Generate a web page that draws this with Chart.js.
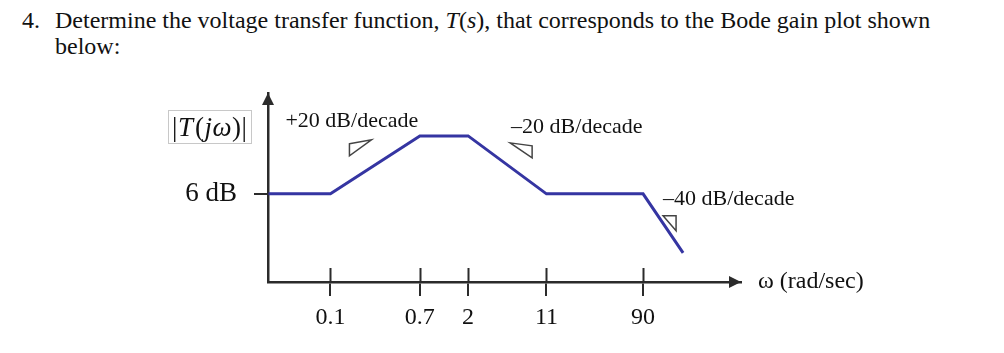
<!DOCTYPE html>
<html>
<head>
<meta charset="utf-8">
<script src="https://cdn.jsdelivr.net/npm/chart.js@4"></script>
<style>
  body { margin: 0; background: #fff; }
  #q { position: absolute; left: 0; top: 7px; width: 1004px; font: 24px "Liberation Serif", serif; line-height: 26px; color: #111; }
  #q .num { position: absolute; left: 22px; }
  #q .txt { position: absolute; left: 55px; white-space: nowrap; }
  #wrap { position: absolute; left: 0; top: 0; }
</style>
</head>
<body>
<div id="q">
  <span class="num">4.</span>
  <span class="txt">Determine the voltage transfer function, <i>T</i>(<i>s</i>), that corresponds to the Bode gain plot shown<br>below:</span>
</div>
<div id="wrap"><canvas id="c" width="1004" height="353"></canvas></div>
<script>
// break frequencies (rad/sec) and asymptotic gain (dB)
const omega = [0.026, 0.1, 0.7, 2, 11, 90, 215]
const gainDb = [6, 6, 22.9, 22.9, 6, 6, -11.2]

const xTicks = [0.1, 0.7, 2, 11, 90]
const xTickLabels = ['0.1', '0.7', '2', '11', '90']
const yTicks = [6]
const yTickLabels = ['6 dB']

// which segment each slope note belongs to (index of segment start)
const slopeNotes = [
    { seg: 1, text: '+20 dB/decade' },
    { seg: 3, text: '\u201320 dB/decade' },
    { seg: 5, text: '\u201340 dB/decade' }
]

const AXIS = '#2b2b2b'
const SERIF = '"Liberation Serif", serif'

// offsets of each note from its segment start, and its little slope triangle
const noteLayout = [
    { dx: -45, dy: -67, tri: [[64, 17], [86, 13], [64, 29]] },
    { dx: 43, dy: -3, tri: [[-1, 10], [21, 13], [21, 25]] },
    { dx: 20, dy: 11, tri: [[0, 11], [13, 11], [13, 26]] }
]

const decor = {
    id: 'decor',
    afterDraw(chart) {
        const c = chart.ctx, a = chart.chartArea
        const xs = chart.scales.x, ys = chart.scales.y
        c.save()
        c.fillStyle = AXIS
        c.strokeStyle = AXIS
        // arrow heads
        c.beginPath()
        c.moveTo(a.left, a.top)
        c.lineTo(a.left - 6, a.top + 12)
        c.lineTo(a.left + 6, a.top + 12)
        c.closePath()
        c.fill()
        c.beginPath()
        c.moveTo(a.right, a.bottom)
        c.lineTo(a.right - 12, a.bottom - 6)
        c.lineTo(a.right - 12, a.bottom + 6)
        c.closePath()
        c.fill()
        // upper half of the x tick crosses
        c.lineWidth = 2
        xTicks.forEach(v => {
            let px = Math.round(xs.getPixelForValue(v)) + 0.5
            c.beginPath()
            c.moveTo(px, a.bottom)
            c.lineTo(px, a.bottom - 14)
            c.stroke()
        })
        // axis titles
        c.fillStyle = '#111'
        c.textBaseline = 'middle'
        c.font = '24px ' + SERIF
        c.fillText('\u03c9 (rad/sec)', a.right + 17, a.bottom)
        // |T(jw)| label in a faint box
        c.strokeStyle = '#c8c8c8'
        c.lineWidth = 1
        c.strokeRect(168.5, 110.5, 83, 33)
        c.textBaseline = 'alphabetic'
        let x = 172, y = 136
        const parts = [['|', ''], ['T', 'italic '], ['(', ''], ['j', 'italic '], ['\u03c9', 'italic '], [')', ''], ['|', '']]
        parts.forEach(p => {
            c.font = p[1] + '27px ' + SERIF
            c.fillText(p[0], x, y)
            x += c.measureText(p[0]).width + (p[0] == 'T' ? 2 : 0.5)
        })
        // slope notes
        c.font = '22px ' + SERIF
        slopeNotes.forEach((n, i) => {
            let sx = xs.getPixelForValue(omega[n.seg]), sy = ys.getPixelForValue(gainDb[n.seg])
            let L = noteLayout[i]
            let lx = sx + L.dx, ly = sy + L.dy
            c.fillStyle = '#111'
            c.fillText(n.text, lx, ly)
            c.strokeStyle = '#444'
            c.lineWidth = 1.5
            c.beginPath()
            c.moveTo(lx + L.tri[0][0], ly + L.tri[0][1])
            c.lineTo(lx + L.tri[1][0], ly + L.tri[1][1])
            c.lineTo(lx + L.tri[2][0], ly + L.tri[2][1])
            c.closePath()
            c.stroke()
        })
        c.restore()
    }
}

new Chart(document.getElementById('c'), {
    type: 'line',
    data: {
        datasets: [{
            data: omega.map((w, i) => ({ x: w, y: gainDb[i] })),
            borderColor: '#3535a2',
            borderWidth: 3,
            pointRadius: 0,
            tension: 0,
            fill: false
        }]
    },
    options: {
        responsive: false,
        animation: false,
        devicePixelRatio: 1,
        layout: { padding: { left: 168, top: 93, right: 263, bottom: 21 } },
        plugins: { legend: { display: false }, tooltip: { enabled: false } },
        scales: {
            x: {
                type: 'logarithmic',
                min: 0.0257,
                max: 758,
                border: { color: AXIS, width: 2.5 },
                grid: { drawOnChartArea: false, tickLength: 14, color: AXIS, lineWidth: 2 },
                ticks: {
                    autoSkip: false, maxRotation: 0, padding: 7,
                    color: '#111', font: { family: SERIF, size: 24 },
                    callback: (v, i) => xTickLabels[i]
                },
                afterBuildTicks: s => { s.ticks = xTicks.map(v => ({ value: v })) },
                afterFit: s => { s.height = 50 }
            },
            y: {
                type: 'linear',
                min: -19.7,
                max: 35.4,
                border: { color: AXIS, width: 2.5 },
                grid: { drawOnChartArea: false, tickLength: 14, color: AXIS, lineWidth: 2 },
                ticks: {
                    padding: 17,
                    color: '#111', font: { family: SERIF, size: 27 },
                    callback: (v, i) => yTickLabels[i]
                },
                afterBuildTicks: s => { s.ticks = yTicks.map(v => ({ value: v })) },
                afterFit: s => { s.width = 100 }
            }
        }
    },
    plugins: [decor]
})
</script>
</body>
</html>
